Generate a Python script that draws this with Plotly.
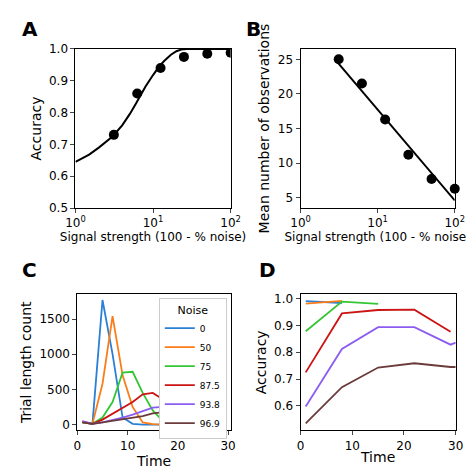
import plotly.graph_objects as go

# Panel A
a_x = [3.125, 6.25, 12.5, 25, 50, 100]
a_y = [0.73, 0.86, 0.94, 0.975, 0.985, 0.988]
a_fit_x = [1, 1.5, 2, 2.5, 3, 4, 5, 6, 7, 8, 10, 12, 14, 17, 20, 23, 27, 35, 50, 100]
a_fit_y = [0.645, 0.668, 0.69, 0.71, 0.725, 0.76, 0.795, 0.828, 0.858, 0.882, 0.918, 0.945,
           0.963, 0.982, 0.993, 0.998, 1.0, 1.0, 1.0, 1.0]
# Panel B
b_y = [25, 21.5, 16.3, 11.2, 7.7, 6.3]
b_fit_x = [3, 100]
b_fit_y = [24.6, 4.6]
# Panel C
noise = ["0", "50", "75", "87.5", "93.8", "96.9"]
colors = ["#2a7fd6", "#fb7d1a", "#33c633", "#cc1414", "#8c5cf2", "#6b3b3b"]
c_t = list(range(1, 30, 2))
c_counts = [
    [30, 10, 1770, 1000, 100, 10, 0, 0, 0, 0, 0, 0, 0, 0, 0],
    [30, 10, 580, 1540, 700, 250, 30, 5, 0, 0, 0, 0, 0, 0, 0],
    [30, 10, 100, 320, 740, 750, 450, 200, 50, 20, 15, 10, 5, 5, 5],
    [40, 10, 70, 150, 230, 320, 430, 450, 360, 300, 200, 120, 80, 50, 40],
    [50, 10, 30, 60, 100, 140, 190, 240, 250, 260, 260, 260, 210, 190, 150],
    [30, 10, 30, 50, 70, 90, 120, 160, 170, 190, 210, 210, 210, 200, 190],
]
# Panel D
d_t = [
    [1, 8], [1, 8], [1, 8, 15], [1, 8, 15, 22, 29],
    [1, 8, 15, 22, 29, 30], [1, 8, 15, 22, 29, 30],
]
d_acc = [
    [0.99, 0.983],
    [0.981, 0.991],
    [0.878, 0.988, 0.98],
    [0.725, 0.944, 0.957, 0.958, 0.876],
    [0.598, 0.812, 0.893, 0.893, 0.828, 0.836],
    [0.535, 0.67, 0.743, 0.759, 0.745, 0.745],
]

W, H = 474, 468
fig = go.Figure()
fig.add_trace(go.Scatter(x=a_fit_x, y=a_fit_y, mode="lines", line=dict(color="black", width=2),
                         xaxis="x", yaxis="y", showlegend=False))
fig.add_trace(go.Scatter(x=a_x, y=a_y, mode="markers", marker=dict(color="black", size=10),
                         xaxis="x", yaxis="y", showlegend=False))
fig.add_trace(go.Scatter(x=b_fit_x, y=b_fit_y, mode="lines", line=dict(color="black", width=2),
                         xaxis="x2", yaxis="y2", showlegend=False))
fig.add_trace(go.Scatter(x=a_x, y=b_y, mode="markers", marker=dict(color="black", size=10),
                         xaxis="x2", yaxis="y2", showlegend=False, cliponaxis=False))
for n, c, ys in zip(noise, colors, c_counts):
    fig.add_trace(go.Scatter(x=c_t, y=ys, mode="lines", name=n, line=dict(color=c, width=1.8),
                             xaxis="x3", yaxis="y3"))
for c, ts, ys in zip(colors, d_t, d_acc):
    fig.add_trace(go.Scatter(x=ts, y=ys, mode="lines", line=dict(color=c, width=1.8),
                             xaxis="x4", yaxis="y4", showlegend=False))


def dom(p0, p1, total):
    return [p0 / total, p1 / total]


def ydom(top, bottom):
    return [1 - bottom / H, 1 - top / H]


ax = dict(showline=True, linecolor="black", mirror=True, ticks="outside", ticklen=4,
          showgrid=False, zeroline=False, tickfont=dict(size=12))
logx = dict(ax, type="log", range=[0, 2], tickvals=[1, 10, 100],
            ticktext=["10<sup>0</sup>", "10<sup>1</sup>", "10<sup>2</sup>"],
            title=dict(text="Signal strength (100 - % noise)", font=dict(size=12), standoff=2))
fig.update_layout(
    width=W, height=H, margin=dict(l=0, r=0, t=0, b=0),
    paper_bgcolor="white", plot_bgcolor="white",
    font=dict(family="DejaVu Sans", color="black", size=12),
    xaxis=dict(logx, domain=dom(60, 222, W), anchor="y"),
    yaxis=dict(ax, domain=ydom(35, 199), range=[0.5, 1.0], dtick=0.1, tickformat=".1f",
               title=dict(text="Accuracy", standoff=4), anchor="x"),
    xaxis2=dict(logx, domain=dom(295, 456, W), anchor="y2"),
    yaxis2=dict(ax, domain=ydom(35, 199), range=[3.5, 26.5], tickvals=[5, 10, 15, 20, 25],
                title=dict(text="Mean number of observations", standoff=4), anchor="x2"),
    xaxis3=dict(ax, domain=dom(62, 222, W), range=[0, 30.5], dtick=10, anchor="y3",
                title=dict(text="Time", standoff=0)),
    yaxis3=dict(ax, domain=ydom(288, 428), range=[-80, 1850], tickvals=[0, 500, 1000, 1500],
                title=dict(text="Trial length count", standoff=4), anchor="x3"),
    xaxis4=dict(ax, domain=dom(295, 457, W), range=[0, 30], dtick=10, anchor="y4",
                title=dict(text="Time", standoff=0)),
    yaxis4=dict(ax, domain=ydom(288, 428), range=[0.51, 1.015], dtick=0.1, tickformat=".1f",
                title=dict(text="Accuracy", standoff=4), anchor="x4"),
    legend=dict(x=218 / W, xanchor="right", y=1 - 292 / H, yanchor="top", bgcolor="white",
                bordercolor="#cccccc", borderwidth=1, font=dict(size=9), itemwidth=30,
                title=dict(text="Noise", font=dict(size=11), side="top center"), tracegroupgap=0),
)
for txt, x, y in [("A", 2, 0), ("B", 236, 0), ("C", 2, 248), ("D", 250, 248)]:
    fig.add_annotation(text="<b>%s</b>" % txt, x=x / W, y=1 - y / H, xref="paper", yref="paper",
                       xanchor="left", yanchor="top", showarrow=False, font=dict(size=20))
fig.write_html("out.html")
